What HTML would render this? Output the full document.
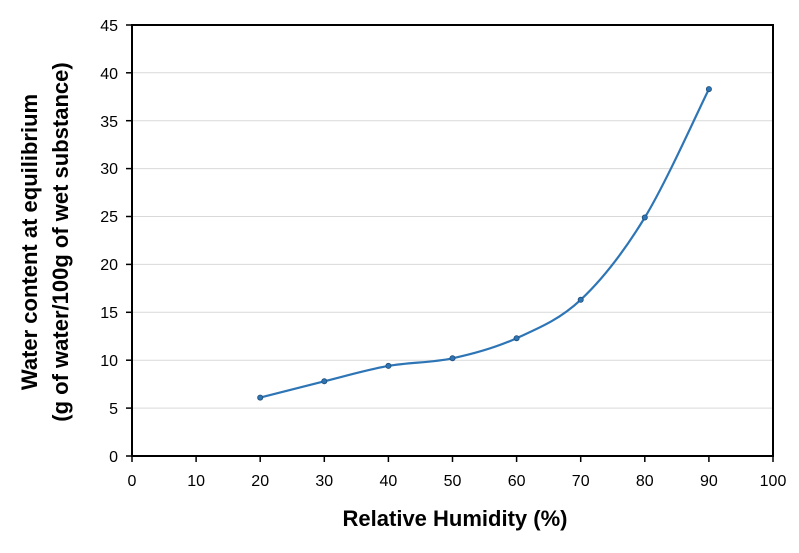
<!DOCTYPE html>
<html><head><meta charset="utf-8"><style>body{margin:0;background:#fff}</style></head><body>
<svg width="799" height="548" xmlns="http://www.w3.org/2000/svg" font-family="Liberation Sans, sans-serif">
<g stroke="#d9d9d9" stroke-width="1">
<line x1="132" x2="773" y1="408.1" y2="408.1"/><line x1="132" x2="773" y1="360.2" y2="360.2"/>
<line x1="132" x2="773" y1="312.3" y2="312.3"/><line x1="132" x2="773" y1="264.4" y2="264.4"/>
<line x1="132" x2="773" y1="216.5" y2="216.5"/><line x1="132" x2="773" y1="168.6" y2="168.6"/>
<line x1="132" x2="773" y1="120.7" y2="120.7"/><line x1="132" x2="773" y1="72.8" y2="72.8"/>
</g>
<rect x="132" y="25" width="641" height="431" fill="none" stroke="#000" stroke-width="2"/>
<g stroke="#000" stroke-width="1.5">
<line x1="126" x2="132" y1="456" y2="456"/><line x1="126" x2="132" y1="408.1" y2="408.1"/><line x1="126" x2="132" y1="360.2" y2="360.2"/><line x1="126" x2="132" y1="312.3" y2="312.3"/><line x1="126" x2="132" y1="264.4" y2="264.4"/><line x1="126" x2="132" y1="216.5" y2="216.5"/><line x1="126" x2="132" y1="168.6" y2="168.6"/><line x1="126" x2="132" y1="120.7" y2="120.7"/><line x1="126" x2="132" y1="72.8" y2="72.8"/><line x1="126" x2="132" y1="25" y2="25"/>
<line x1="132" x2="132" y1="456" y2="462"/><line x1="196.1" x2="196.1" y1="456" y2="462"/><line x1="260.2" x2="260.2" y1="456" y2="462"/><line x1="324.3" x2="324.3" y1="456" y2="462"/><line x1="388.4" x2="388.4" y1="456" y2="462"/><line x1="452.5" x2="452.5" y1="456" y2="462"/><line x1="516.6" x2="516.6" y1="456" y2="462"/><line x1="580.7" x2="580.7" y1="456" y2="462"/><line x1="644.8" x2="644.8" y1="456" y2="462"/><line x1="708.9" x2="708.9" y1="456" y2="462"/><line x1="773" x2="773" y1="456" y2="462"/>
</g>
<g font-size="16" fill="#000" text-anchor="end">
<text x="118" y="462">0</text><text x="118" y="414">5</text><text x="118" y="366">10</text><text x="118" y="318">15</text><text x="118" y="270">20</text><text x="118" y="222">25</text><text x="118" y="174">30</text><text x="118" y="127">35</text><text x="118" y="79">40</text><text x="118" y="31">45</text>
</g>
<g font-size="16" fill="#000" text-anchor="middle">
<text x="132" y="486">0</text><text x="196.1" y="486">10</text><text x="260.2" y="486">20</text><text x="324.3" y="486">30</text><text x="388.4" y="486">40</text><text x="452.5" y="486">50</text><text x="516.6" y="486">60</text><text x="580.7" y="486">70</text><text x="644.8" y="486">80</text><text x="708.9" y="486">90</text><text x="773" y="486">100</text>
</g>
<text x="455" y="526" font-size="22" font-weight="bold" text-anchor="middle">Relative Humidity (%)</text>
<g font-size="22" font-weight="bold" text-anchor="middle">
<text transform="translate(37,242) rotate(-90)">Water content at equilibrium</text>
<text transform="translate(68,242) rotate(-90)">(g of water/100g of wet substance)</text>
</g>
<path d="M260.2,397.6 C270.9,394.9 302.9,386.6 324.3,381.3 C345.7,376 367,369.7 388.4,365.9 C409.8,362.1 431.1,362.9 452.5,358.3 C473.9,353.7 495.2,347.9 516.6,338.2 C538,328.4 559.3,319.9 580.7,299.8 C602.1,279.7 623.4,252.6 644.8,217.5 C666.2,182.4 698.2,110.5 708.9,89.1" fill="none" stroke="#2e75b6" stroke-width="2.2"/>
<g fill="#2e75b6" stroke="#1f4e79" stroke-width="0.8">
<circle cx="260.2" cy="397.6" r="2.6"/><circle cx="324.3" cy="381.3" r="2.6"/><circle cx="388.4" cy="365.9" r="2.6"/><circle cx="452.5" cy="358.3" r="2.6"/><circle cx="516.6" cy="338.2" r="2.6"/><circle cx="580.7" cy="299.8" r="2.6"/><circle cx="644.8" cy="217.5" r="2.6"/><circle cx="708.9" cy="89.1" r="2.6"/>
</g>
</svg>
</body></html>
